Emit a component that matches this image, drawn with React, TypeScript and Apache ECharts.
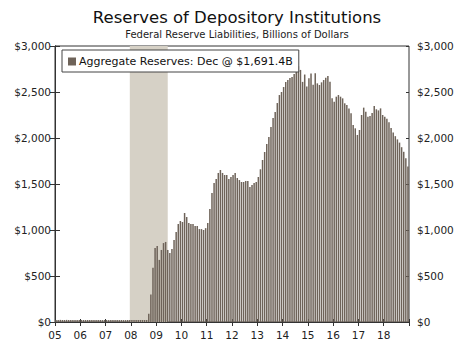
import React, { useEffect, useRef } from "react";
import * as echarts from "echarts";

const startYear = 2005;
const yearLabels = ["05", "06", "07", "08", "09", "10", "11", "12", "13", "14", "15", "16", "17", "18"];
const y2005 = [22, 22, 23, 22, 22, 23, 22, 22, 22, 23, 22, 23];
const y2006 = [22, 22, 22, 22, 22, 22, 22, 21, 21, 22, 21, 22];
const y2007 = [22, 21, 21, 21, 21, 21, 21, 22, 21, 21, 21, 21];
const y2008 = [21, 22, 22, 22, 22, 22, 22, 22, 90, 300, 590, 805];
const y2009 = [826, 675, 783, 858, 870, 783, 750, 793, 891, 978, 1065, 1098];
const y2010 = [1087, 1185, 1141, 1076, 1065, 1065, 1043, 1043, 1010, 1010, 1000, 1020];
const y2011 = [1076, 1228, 1402, 1511, 1554, 1620, 1652, 1620, 1598, 1598, 1554, 1576];
const y2012 = [1598, 1620, 1565, 1543, 1522, 1522, 1533, 1533, 1467, 1489, 1511, 1522];
const y2013 = [1576, 1660, 1761, 1848, 1935, 2011, 2120, 2217, 2283, 2380, 2467, 2500];
const y2014 = [2554, 2609, 2630, 2652, 2663, 2696, 2717, 2780, 2740, 2610, 2690, 2560];
const y2015 = [2650, 2700, 2580, 2703, 2594, 2576, 2605, 2630, 2655, 2674, 2612, 2431];
const y2016 = [2395, 2449, 2467, 2449, 2431, 2377, 2359, 2322, 2268, 2141, 2105, 2033];
const y2017 = [2087, 2250, 2330, 2286, 2232, 2240, 2272, 2348, 2312, 2300, 2322, 2250];
const y2018 = [2230, 2210, 2170, 2110, 2060, 2020, 1985, 1950, 1900, 1850, 1780, 1691.4];
const yTicks = [0, 500, 1000, 1500, 2000, 2500, 3000];
const recession = ["2007-12", "2009-06"];

const seriesName = "Aggregate Reserves: Dec @ $1,691.4B";

const monthIndex = (s: string) => {
  const [y, m] = s.split("-").map(Number);
  return (y - startYear) * 12 + (m - 1);
};

const allValues = [y2005, y2006, y2007, y2008, y2009, y2010, y2011, y2012, y2013, y2014, y2015, y2016, y2017, y2018].flat();

const FONT = "DejaVu Sans";

export default function App() {
  const ref = useRef<HTMLDivElement>(null);
  useEffect(() => {
    if (!ref.current) return;
    const chart = echarts.init(ref.current, undefined, { renderer: "svg" });
    const nMonths = allValues.length;
    const fmt = (v: number) => "$" + v.toLocaleString("en-US");
    const yAxisCommon = {
      type: "value",
      min: yTicks[0],
      max: yTicks[yTicks.length - 1],
      interval: 500,
      splitLine: { show: false },
      axisLine: { show: true, lineStyle: { color: "#333", width: 1 } },
    };
    chart.setOption({
      animation: false,
      backgroundColor: "#fff",
      title: {
        text: "Reserves of Depository Institutions",
        subtext: "Federal Reserve Liabilities, Billions of Dollars",
        left: "center",
        top: 4,
        itemGap: 3,
        textStyle: { fontFamily: FONT, fontSize: 16.5, fontWeight: "normal", color: "#111" },
        subtextStyle: { fontFamily: FONT, fontSize: 10, color: "#222" },
      },
      legend: {
        left: 62,
        top: 50,
        icon: "rect",
        itemWidth: 8,
        itemHeight: 8,
        itemGap: 4,
        padding: [6, 6, 5, 6],
        backgroundColor: "#fff",
        borderColor: "#444",
        borderWidth: 1,
        borderRadius: 0,
        textStyle: { fontFamily: FONT, fontSize: 11, color: "#111", padding: [0, 0, 0, -2] },
        data: [seriesName],
      },
      grid: {
        left: 55,
        right: 65,
        top: 46,
        bottom: 38,
        show: true,
        borderColor: "#333",
        borderWidth: 1,
      },
      xAxis: [
        {
          type: "value",
          min: 0,
          max: nMonths,
          interval: 12,
          splitLine: { show: false },
          axisLine: { show: true, onZero: false, lineStyle: { color: "#333" } },
          axisTick: { show: true, length: 4, lineStyle: { color: "#333" } },
          axisLabel: {
            fontFamily: FONT,
            fontSize: 10.5,
            color: "#222",
            margin: 7,
            formatter: (v: number) => (v < nMonths ? yearLabels[Math.round(v / 12)] ?? "" : ""),
          },
        },
        {
          type: "value",
          position: "bottom",
          min: 0,
          max: nMonths,
          interval: 12,
          splitLine: { show: false },
          axisLine: { show: false },
          axisTick: { show: true, inside: true, length: 3, lineStyle: { color: "#333" } },
          axisLabel: { show: false },
        },
      ],
      yAxis: [
        {
          ...yAxisCommon,
          position: "left",
          axisTick: { show: true, length: 5, lineStyle: { color: "#333" } },
          axisLabel: { fontFamily: FONT, fontSize: 10.5, color: "#222", margin: 4, formatter: fmt },
        },
        {
          ...yAxisCommon,
          position: "right",
          axisTick: { show: true, length: 5, lineStyle: { color: "#333" } },
          axisLabel: { fontFamily: FONT, fontSize: 10.5, color: "#222", margin: 8, formatter: fmt },
        },
        {
          ...yAxisCommon,
          position: "left",
          axisLine: { show: false },
          axisTick: { show: true, inside: true, length: 3, lineStyle: { color: "#333" } },
          axisLabel: { show: false },
        },
        {
          ...yAxisCommon,
          position: "right",
          axisLine: { show: false },
          axisTick: { show: true, inside: true, length: 3, lineStyle: { color: "#333" } },
          axisLabel: { show: false },
        },
      ],
      series: [
        {
          name: seriesName,
          type: "bar",
          xAxisIndex: 0,
          yAxisIndex: 0,
          barWidth: 1.5,
          itemStyle: { color: "#6e6359" },
          data: allValues.map((v, i) => [i + 0.5, v]),
          markArea: {
            silent: true,
            itemStyle: { color: "#d6d1c6" },
            data: [[{ xAxis: monthIndex(recession[0]) + 0.5 }, { xAxis: monthIndex(recession[1]) + 0.5 }]],
          },
        },
      ],
    });
    return () => chart.dispose();
  }, []);
  return <div ref={ref} style={{ position: "fixed", left: 0, top: 0, width: 474, height: 360 }} />;
}
